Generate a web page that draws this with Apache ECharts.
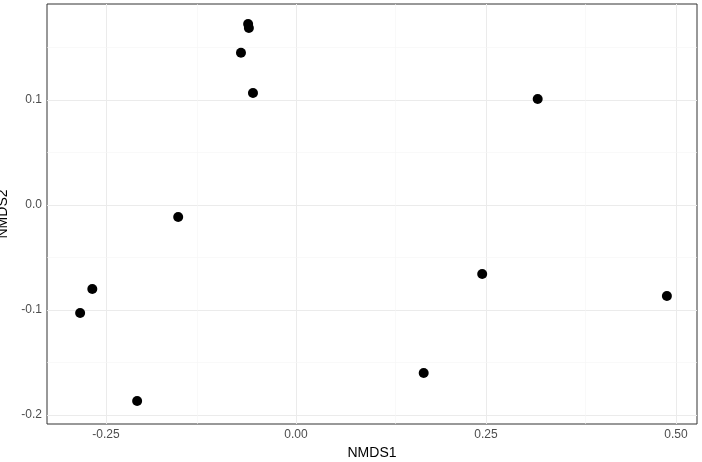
<!DOCTYPE html>
<html><head><meta charset="utf-8">
<script src="https://cdn.jsdelivr.net/npm/echarts@6/dist/echarts.min.js"></script>
<style>html,body{margin:0;padding:0;background:#fff}#c{width:702px;height:462px}</style>
</head><body><div id="c"></div>
<script>
const nmds1 = [-0.063,-0.062,-0.0724,-0.0566,-0.155,-0.268,-0.284,-0.209,0.318,0.245,0.168,0.488];
const nmds2 = [0.1724,0.1686,0.145,0.1067,-0.0114,-0.080,-0.1029,-0.1867,0.101,-0.0657,-0.160,-0.0867];
const xTicks = [-0.25,0,0.25,0.5];
const xTickLabels = ['-0.25','0.00','0.25','0.50'];
const yTicks = [-0.2,-0.1,0,0.1];
const yTickLabels = ['-0.2','-0.1','0.0','0.1'];
const xMinor = [-0.125,0.125,0.375];
const yMinor = [-0.15,-0.05,0.05,0.15];
const xRange = [-0.3276,0.5276], yRange = [-0.2086,0.1914];

const major = {color:'#EBEBEB',width:1,type:'solid'};
const minor = {color:'#F5F5F5',width:0.6,type:'solid'};
const ml = [];
xTicks.forEach(v=>ml.push({xAxis:v,lineStyle:major}));
yTicks.forEach(v=>ml.push({yAxis:v,lineStyle:major}));
xMinor.forEach(v=>ml.push({xAxis:v,lineStyle:minor}));
yMinor.forEach(v=>ml.push({yAxis:v,lineStyle:minor}));

const axisCommon = {
  axisLine:{show:false}, splitLine:{show:false},
  nameLocation:'middle', nameTextStyle:{color:'#000',fontSize:14,fontFamily:'Liberation Sans'}
};
const chart = echarts.init(document.getElementById('c'));
chart.setOption({
  animation:false,
  grid:{left:47,right:5,top:4,bottom:38,containLabel:false,outerBoundsMode:'none',show:true,borderColor:'#333',borderWidth:1},
  xAxis:Object.assign({type:'value',min:xRange[0],max:xRange[1],name:'NMDS1',nameGap:20,
    axisTick:{show:true,length:3,lineStyle:{color:'#333'},customValues:xTicks},
    axisLabel:{customValues:xTicks,color:'#4D4D4D',fontSize:12,margin:5,fontFamily:'Liberation Sans',
      formatter:v=>xTickLabels[xTicks.findIndex(t=>Math.abs(t-v)<1e-9)]}},axisCommon),
  yAxis:Object.assign({type:'value',min:yRange[0],max:yRange[1],name:'NMDS2',nameGap:33,
    axisTick:{show:true,length:3,lineStyle:{color:'#333'},customValues:yTicks},
    axisLabel:{customValues:yTicks,color:'#4D4D4D',fontSize:12,margin:5,fontFamily:'Liberation Sans',
      formatter:v=>yTickLabels[yTicks.findIndex(t=>Math.abs(t-v)<1e-9)]}},axisCommon),
  series:[{type:'scatter',symbolSize:10,itemStyle:{color:'#000',opacity:1},z:5,
    data:nmds1.map((x,i)=>[x,nmds2[i]]),
    markLine:{silent:true,symbol:'none',label:{show:false},z:1,data:ml}}]
});
</script></body></html>
